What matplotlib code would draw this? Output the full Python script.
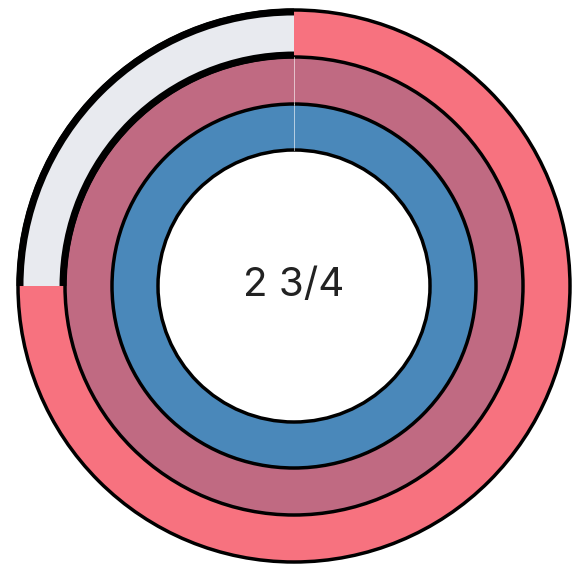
import matplotlib
matplotlib.use("Agg")
import matplotlib.pyplot as plt
from matplotlib.patches import Wedge, Circle, Arc

whole = 2
numerator = 3
denominator = 4
label = "2 3/4"
ring_colors = ["#4A88BA", "#C06A82", "#F7727F"]
empty_color = "#E8EAEF"

fig = plt.figure(figsize=(5.85, 5.83), dpi=100)
ax = fig.add_axes([0, 0, 1, 1])
ax.set_xlim(0, 585); ax.set_ylim(583, 0); ax.set_aspect("equal"); ax.axis("off")
cx, cy = 294, 286
radii = [(136, 182), (182, 229), (229, 276)]
fracs = [1.0] * whole + [numerator / denominator]
for (r0, r1), f, col in zip(radii, fracs, ring_colors):
    if f < 1:
        ax.add_patch(Wedge((cx, cy), r1, 270 + 360 * f, 270 + 360, width=r1 - r0,
                           facecolor=empty_color, edgecolor="none"))
    ax.add_patch(Wedge((cx, cy), r1, 270, 270 + 360 * f, width=r1 - r0,
                       facecolor=col, edgecolor="none"))
    if f >= 1:
        ax.plot([cx, cx], [cy - r1, cy - r0], color="white", lw=0.6, alpha=0.7)
for r in [136, 182, 229, 276]:
    ax.add_patch(Circle((cx, cy), r, fill=False, edgecolor="black", lw=2.5))
# thicker outline along the empty part of the outer ring
f = fracs[-1]
for r in [231, 274]:
    ax.add_patch(Arc((cx, cy), 2 * r, 2 * r, theta1=270 + 360 * f, theta2=360 + 270,
                     edgecolor="black", lw=5))
ax.text(cx, cy, label, ha="center", va="center", fontsize=29, color="#222222",
        family="Inter")
fig.savefig("out.png", dpi=100)
